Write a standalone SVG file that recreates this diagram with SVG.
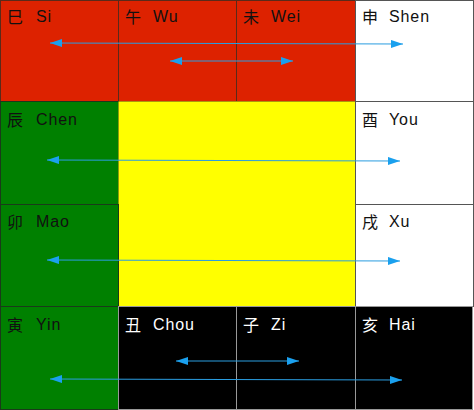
<svg xmlns="http://www.w3.org/2000/svg" width="474" height="410" viewBox="0 0 474 410">
<style>
.r{fill:#dd2200;stroke:#5a2a1a;stroke-width:1}
.g{fill:#008000;stroke:#1a3a1a;stroke-width:1}
.w{fill:#ffffff;stroke:#555555;stroke-width:1}
.k{fill:#000000;stroke:#999999;stroke-width:1}
.y{fill:#ffff00;stroke:none}
text{font-family:"Liberation Sans","Noto Sans CJK SC",sans-serif;font-size:16px;letter-spacing:0.9px;fill:#111}
.c{font-family:"Noto Sans CJK SC",sans-serif;font-size:16px;letter-spacing:0}
.lt{fill:#ffffff}
.a{stroke:#2a9de0;stroke-width:1.2;fill:none;marker-start:url(#hs);marker-end:url(#he)}
</style>
<defs>
<marker id="he" viewBox="0 0 12 8" refX="12" refY="4" markerWidth="12" markerHeight="8" markerUnits="userSpaceOnUse" orient="auto">
<path d="M0,0L12,4L0,8z" fill="#1aa0ee"/>
</marker>
<marker id="hs" viewBox="0 0 12 8" refX="0" refY="4" markerWidth="12" markerHeight="8" markerUnits="userSpaceOnUse" orient="auto">
<path d="M12,0L0,4L12,8z" fill="#1aa0ee"/>
</marker>
</defs>
<rect x="0" y="0" width="474" height="410" fill="#ffffff"/>
<g id="si"><rect class="r" x="0.5" y="0.5" width="118" height="101"/><text x="7" y="23"><tspan class="c">巳</tspan><tspan x="36" y="22">Si</tspan></text></g>
<g id="wu"><rect class="r" x="118.5" y="0.5" width="118" height="101"/><text x="125" y="23"><tspan class="c">午</tspan><tspan x="153" y="22">Wu</tspan></text></g>
<g id="wei"><rect class="r" x="236.5" y="0.5" width="119" height="101"/><text x="243" y="23"><tspan class="c">未</tspan><tspan x="271" y="22">Wei</tspan></text></g>
<g id="shen"><rect class="w" x="355.5" y="0.5" width="118" height="101"/><text x="362" y="23"><tspan class="c">申</tspan><tspan x="389" y="22">Shen</tspan></text></g>
<g id="chen"><rect class="g" x="0.5" y="101.5" width="118" height="103"/><text x="7" y="126"><tspan class="c">辰</tspan><tspan x="36" y="125">Chen</tspan></text></g>
<g id="center"><rect class="y" x="118.5" y="101.5" width="237" height="205"/></g>
<g id="you"><rect class="w" x="355.5" y="101.5" width="118" height="103"/><text x="362" y="126"><tspan class="c">酉</tspan><tspan x="389" y="125">You</tspan></text></g>
<g id="mao"><rect class="g" x="0.5" y="204.5" width="118" height="102"/><text x="7" y="228"><tspan class="c">卯</tspan><tspan x="36" y="227">Mao</tspan></text></g>
<g id="xu"><rect class="w" x="355.5" y="204.5" width="118" height="102"/><text x="362" y="228"><tspan class="c">戌</tspan><tspan x="389" y="227">Xu</tspan></text></g>
<g id="yin"><rect class="g" x="0.5" y="306.5" width="118" height="103"/><text x="7" y="331"><tspan class="c">寅</tspan><tspan x="36" y="330">Yin</tspan></text></g>
<g id="chou"><rect class="k" x="118.5" y="306.5" width="118" height="103"/><text class="lt" x="125" y="331"><tspan class="c">丑</tspan><tspan x="153" y="330">Chou</tspan></text></g>
<g id="zi"><rect class="k" x="236.5" y="306.5" width="119" height="103"/><text class="lt" x="243" y="331"><tspan class="c">子</tspan><tspan x="271" y="330">Zi</tspan></text></g>
<g id="hai"><rect class="k" x="355.5" y="306.5" width="117" height="103"/><text class="lt" x="362" y="331"><tspan class="c">亥</tspan><tspan x="389" y="330">Hai</tspan></text></g>
<g id="connectors">
<line class="a" x1="50" y1="43" x2="403" y2="44"/>
<line class="a" x1="170" y1="61" x2="293" y2="61"/>
<line class="a" x1="47" y1="160" x2="400" y2="161"/>
<line class="a" x1="47" y1="260" x2="400" y2="261"/>
<line class="a" x1="176" y1="361" x2="299" y2="361"/>
<line class="a" x1="50" y1="379" x2="402" y2="380"/>
</g>
</svg>
